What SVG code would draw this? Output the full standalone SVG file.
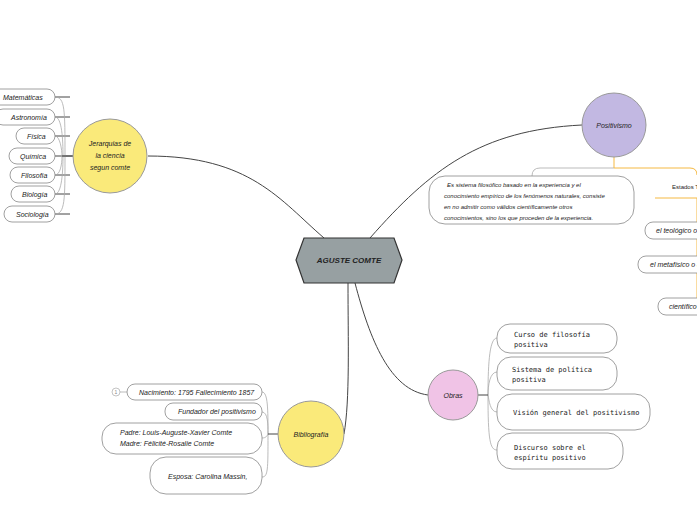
<svg xmlns="http://www.w3.org/2000/svg" width="697" height="520" viewBox="0 0 697 520">
<style>
text{font-family:"Liberation Sans",sans-serif;font-style:italic;font-size:7px;fill:#222}
.pill{fill:#fff;stroke:#888;stroke-width:0.8}
.c{fill:none;stroke:#444;stroke-width:1}
.g{fill:none;stroke:#aaa;stroke-width:0.8}
.o{fill:none;stroke:#f5b942;stroke-width:1}
</style>
<rect width="697" height="520" fill="#fff"/>
<g id="connectors">
<path class="c" d="M324 238 C280 200 250 156 148 156"/>
<path class="c" d="M370 238 C430 170 480 130 582 125"/>
<path class="c" d="M355 283 C370 340 390 390 428 395"/>
<path class="c" d="M348 283 C348 340 350 400 344 434"/>
<path class="c" d="M55 97 H70 M55 117 H70 M55 136 H70 M55 156 H73 M55 175 H70 M55 194 H70 M55 214 H70" stroke="#999"/>
<path class="g" d="M55 97 C65 97 65 110 65 156 C65 200 65 214 55 214 M55 117 C62 117 63 140 63 156 M55 136 C60 136 62 150 62 156 M55 175 C60 175 62 165 62 156 M55 194 C62 194 63 170 63 156"/>
<path class="c" d="M62 156 H73"/>
<path class="g" d="M262 392 C268 392 268 410 268 434 C268 470 268 477 262 477 M262 412 C268 412 268 425 268 434 M262 438 C266 438 267 436 268 434"/>
<path class="c" d="M268 434 H278"/>
<path class="g" d="M497 338 C490 338 488 360 488 395 C488 440 490 450 497 450 M497 372 C490 372 488 385 488 395 M497 412 C490 412 489 400 488 395"/>
<path class="c" d="M428 395 H488"/>
<path class="g" d="M120 392 H127"/>
<path class="o" d="M614 157 V168 H690 Q697 168 697 175"/>
<path class="g" d="M614 168 H540 Q532 168 532 176"/>
<path class="o" d="M655 198 H697 M697 198 V312"/>
</g>
<g id="center"><polygon points="304,238 394,238 402,260 394,283 304,283 296,260" fill="#97a0a2" stroke="#333" stroke-width="1.2"/><text x="349" y="263" text-anchor="middle" style="font-weight:bold;font-size:8px">AGUSTE COMTE</text></g>
<g id="jerarquias"><circle cx="110" cy="156" r="37" fill="#faea7a" stroke="#999"/><text x="110" y="146" text-anchor="middle">Jerarquias de</text><text x="110" y="158" text-anchor="middle">la ciencia</text><text x="110" y="170" text-anchor="middle">segun comte</text></g>
<g id="ciencias">
<rect class="pill" x="-10" y="89" width="65" height="16" rx="8"/><text x="3" y="100">Matemáticas</text>
<rect class="pill" x="-5" y="109" width="60" height="16" rx="8"/><text x="11" y="120">Astronomía</text>
<rect class="pill" x="16" y="128" width="39" height="16" rx="8"/><text x="27" y="139">Física</text>
<rect class="pill" x="9" y="148" width="46" height="16" rx="8"/><text x="20" y="159">Química</text>
<rect class="pill" x="10" y="167" width="45" height="16" rx="8"/><text x="21" y="178">Filosofía</text>
<rect class="pill" x="11" y="186" width="44" height="16" rx="8"/><text x="22" y="197">Biología</text>
<rect class="pill" x="4" y="206" width="51" height="16" rx="8"/><text x="16" y="217">Sociología</text>
</g>
<g id="positivismo"><circle cx="614" cy="125" r="32" fill="#c2b8e2" stroke="#999"/><text x="614" y="128" text-anchor="middle">Positivismo</text></g>
<g id="definicion"><rect class="pill" x="429" y="176" width="205" height="48" rx="16"/>
<text x="447" y="187" style="font-size:6px">Es sistema filosófico basado en la experiencia y el</text>
<text x="444" y="198" style="font-size:6px">conocimiento empírico de los fenómenos naturales, consiste</text>
<text x="444" y="209" style="font-size:6px">en no admitir como válidos científicamente otros</text>
<text x="444" y="220" style="font-size:6px">conocimientos, sino los que proceden de la experiencia.</text></g>
<g id="estados"><text x="672" y="189" style="font-style:normal;font-size:6px">Estados Tres</text></g>
<g id="teologico"><rect class="pill" x="645" y="222" width="70" height="17" rx="8"/><text x="656" y="233">el teológico o ficticio</text></g>
<g id="metafisico"><rect class="pill" x="638" y="256" width="80" height="17" rx="8"/><text x="650" y="267">el metafísico o abstracto</text></g>
<g id="cientifico"><rect class="pill" x="658" y="298" width="60" height="17" rx="8"/><text x="669" y="309">científico o positivo</text></g>
<g id="obras"><circle cx="453" cy="395" r="25" fill="#f0c3e6" stroke="#999"/><text x="453" y="398" text-anchor="middle">Obras</text></g>
<g id="obras-list" style="font-style:normal">
<rect class="pill" x="497" y="324" width="120" height="29" rx="13"/><text x="514" y="337" style="font-style:normal;font-family:'DejaVu Sans Mono',monospace">Curso de filosofía</text><text x="514" y="347" style="font-style:normal;font-family:'DejaVu Sans Mono',monospace">positiva</text>
<rect class="pill" x="497" y="357" width="120" height="33" rx="14"/><text x="512" y="372" style="font-style:normal;font-family:'DejaVu Sans Mono',monospace">Sistema de política</text><text x="512" y="382" style="font-style:normal;font-family:'DejaVu Sans Mono',monospace">positiva</text>
<rect class="pill" x="497" y="394" width="153" height="36" rx="15"/><text x="513" y="415" style="font-style:normal;font-family:'DejaVu Sans Mono',monospace">Visión general del positivismo</text>
<rect class="pill" x="497" y="433" width="126" height="36" rx="15"/><text x="514" y="450" style="font-style:normal;font-family:'DejaVu Sans Mono',monospace">Discurso sobre el</text><text x="514" y="460" style="font-style:normal;font-family:'DejaVu Sans Mono',monospace">espíritu positivo</text>
</g>
<g id="bibliografia"><circle cx="311" cy="434" r="33" fill="#faea7a" stroke="#999"/><text x="311" y="437" text-anchor="middle">Bibliografía</text></g>
<g id="bib-list">
<circle cx="116" cy="392" r="4" fill="#fff" stroke="#aaa" stroke-width="0.7"/><text x="116" y="394" text-anchor="middle" style="font-size:5px;font-style:normal;fill:#888">1</text>
<rect class="pill" x="127" y="384" width="135" height="16" rx="8"/><text x="139" y="395">Nacimiento: 1795   Fallecimiento  1857</text>
<rect class="pill" x="165" y="403" width="97" height="17" rx="8"/><text x="178" y="414">Fundador del positivismo</text>
<rect class="pill" x="102" y="423" width="160" height="31" rx="14"/><text x="120" y="435">Padre: Louis-Auguste-Xavier Comte</text><text x="120" y="446">Madre: Félicité-Rosalie Comte</text>
<rect class="pill" x="150" y="457" width="112" height="37" rx="16"/><text x="168" y="479">Esposa: Carolina Massin,</text>
</g>
</svg>
